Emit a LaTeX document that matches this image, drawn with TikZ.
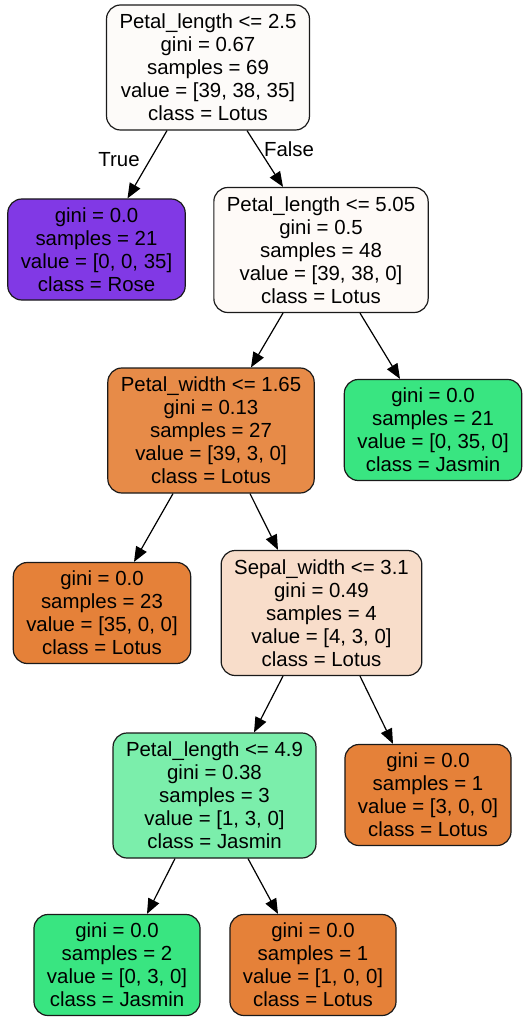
\documentclass[tikz,border=0pt]{standalone}
\usepackage{fontspec}
\setmainfont{Liberation Sans}
\usepackage{xcolor}
\usepackage{tikz}
\usetikzlibrary{arrows.meta,positioning}
\definecolor{lotus}{HTML}{E58139}
\definecolor{rose}{HTML}{8139E5}
\definecolor{jasmin}{HTML}{39E581}
\definecolor{rootfill}{HTML}{FDFBF9}
\definecolor{splitfill}{HTML}{FEFAF7}
\definecolor{widthfill}{HTML}{E78B48}
\definecolor{sepalfill}{HTML}{F8DDCA}
\definecolor{mixfill}{HTML}{7BEEAB}
\definecolor{bk90}{HTML}{1A1A1A}
\tikzset{
  splitbox/.style={
    rectangle, rounded corners=14pt, draw=bk90, fill=#1, line width=1.2pt,
    minimum height=125pt, inner xsep=13pt,
    font=\fontsize{20.4pt}{23pt}\selectfont, align=center
  },
  splitbox/.default=white,
  leafbox/.style={splitbox=#1, minimum height=101pt},
  leafbox/.default=lotus,
  treearrow/.style={
    -{Triangle[length=15pt,width=12pt]}, line width=1.2pt, color=black
  },
  edgelabel/.style={font=\fontsize{20.4pt}{23pt}\selectfont},
}
\begin{document}
\begin{tikzpicture}[x=1pt,y=-1pt]
\useasboundingbox (0,0) rectangle (528,1024);

% Split nodes
\node[splitbox=rootfill] (root) at (208,67.5)
  {Petal\_length <= 2.5\\gini = 0.67\\samples = 69\\value = [39, 38, 35]\\class = Lotus};
\node[splitbox=splitfill] (plen) at (321,250)
  {Petal\_length <= 5.05\\gini = 0.5\\samples = 48\\value = [39, 38, 0]\\class = Lotus};
\node[splitbox=widthfill] (pwid) at (211,430.5)
  {Petal\_width <= 1.65\\gini = 0.13\\samples = 27\\value = [39, 3, 0]\\class = Lotus};
\node[splitbox=sepalfill] (swid) at (321.5,613)
  {Sepal\_width <= 3.1\\gini = 0.49\\samples = 4\\value = [4, 3, 0]\\class = Lotus};
\node[splitbox=mixfill] (plen2) at (214.5,795.5)
  {Petal\_length <= 4.9\\gini = 0.38\\samples = 3\\value = [1, 3, 0]\\class = Jasmin};

% Leaves
\node[leafbox=rose] (leafrose) at (96.5,249.5)
  {gini = 0.0\\samples = 21\\value = [0, 0, 35]\\class = Rose};
\node[leafbox=jasmin] (leafjas) at (433,430)
  {gini = 0.0\\samples = 21\\value = [0, 35, 0]\\class = Jasmin};
\node[leafbox] (leaflot) at (102,613)
  {gini = 0.0\\samples = 23\\value = [35, 0, 0]\\class = Lotus};
\node[leafbox] (leaflot2) at (428,795)
  {gini = 0.0\\samples = 1\\value = [3, 0, 0]\\class = Lotus};
\node[leafbox=jasmin] (leafjas2) at (117,965)
  {gini = 0.0\\samples = 2\\value = [0, 3, 0]\\class = Jasmin};
\node[leafbox] (leaflot3) at (313,965)
  {gini = 0.0\\samples = 1\\value = [1, 0, 0]\\class = Lotus};

% Edges
\draw[treearrow] ([xshift=-41pt]root.south) -- ([xshift=31pt]leafrose.north);
\draw[treearrow] ([xshift=39pt]root.south) -- ([xshift=-38pt]plen.north);
\draw[treearrow] ([xshift=-38pt]plen.south) -- ([xshift=40pt]pwid.north);
\draw[treearrow] ([xshift=39pt]plen.south) -- ([xshift=-33pt]leafjas.north);
\draw[treearrow] ([xshift=-38pt]pwid.south) -- ([xshift=32pt]leaflot.north);
\draw[treearrow] ([xshift=39pt]pwid.south) -- ([xshift=-43.5pt]swid.north);
\draw[treearrow] ([xshift=-38.5pt]swid.south) -- ([xshift=39.5pt]plen2.north);
\draw[treearrow] ([xshift=38.5pt]swid.south) -- ([xshift=-35pt]leaflot2.north);
\draw[treearrow] ([xshift=-39.5pt]plen2.south) -- ([xshift=30pt]leafjas2.north);
\draw[treearrow] ([xshift=33.5pt]plen2.south) -- ([xshift=-35pt]leaflot3.north);

% Branch labels
\node[edgelabel] (truelbl) at (119,160) {True};
\node[edgelabel] (falselbl) at (289,149) {False};

\end{tikzpicture}
\end{document}
